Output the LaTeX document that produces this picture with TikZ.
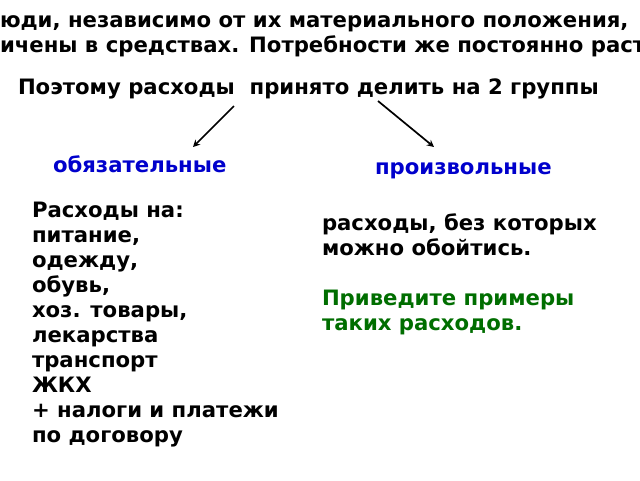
\documentclass[tikz,border=0pt]{standalone}
\usepackage{fontspec}
\setmainfont{DejaVu Sans}
\usetikzlibrary{arrows.meta}
\definecolor{hblue}{RGB}{0,0,204}
\definecolor{hgreen}{RGB}{0,110,0}
\tikzset{
  txt/.style={inner sep=0pt, outer sep=0pt, anchor=base west, align=left,
    font=\fontsize{21.2}{25}\selectfont\bfseries},
  arr/.style={line width=1.7pt, -{Stealth[length=7pt,width=7pt]}}
}
\begin{document}
\begin{tikzpicture}[x=1pt,y=-1pt]
\useasboundingbox[fill=white] (0,0) rectangle (640,480);
\node[txt] (l1) at (0,27) {юди, независимо от их материального положения,};
\node[txt] (l2) at (0,52) {ичены в средствах. Потребности же постоянно раст};
\node[txt] (l3) at (18,94) {Поэтому расходы\ \ принято делить на 2 группы};
\coordinate (a1s) at (234,106);
\coordinate (a1e) at (193,147);
\coordinate (a2s) at (378,101);
\coordinate (a2e) at (434,147);
\draw[arr] (a1s) -- (a1e);
\draw[arr] (a2s) -- (a2e);
\node[txt, text=hblue] (oblig) at (53,172) {обязательные};
\node[txt, text=hblue] (proizv) at (375,174) {произвольные};
\node[txt] (list) at (32,442) {Расходы на:\\питание,\\одежду,\\обувь,\\хоз. товары,\\лекарства\\транспорт\\ЖКХ\\+ налоги и платежи\\по договору};
\node[txt] (desc) at (322,255) {расходы, без которых\\можно обойтись.};
\node[txt, text=hgreen] (ask) at (322,330) {Приведите примеры\\таких расходов.};
\end{tikzpicture}
\end{document}
